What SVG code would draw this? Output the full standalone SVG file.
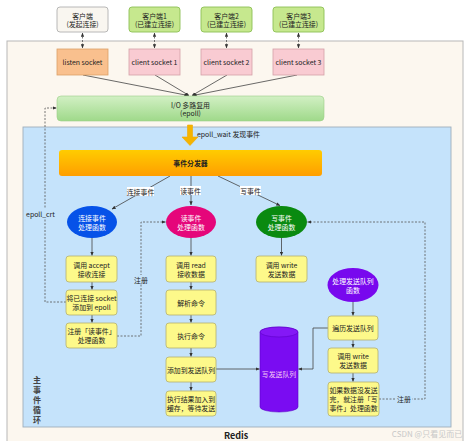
<svg xmlns="http://www.w3.org/2000/svg" width="474" height="441" viewBox="0 0 474 441">
<style>
text{font-family:"Noto Sans CJK SC","Liberation Sans",sans-serif;font-size:6.9px;fill:#222;text-anchor:middle;dominant-baseline:central}
.w{fill:#fff}
.y{fill:#fdf98a;stroke:#b4b070;stroke-width:0.8}
.pk{fill:#f9cbd2;stroke:#d4a0a8;stroke-width:0.8}
.gr{fill:#c6e88e;stroke:#8cbf55;stroke-width:0.9}
.ln{fill:none;stroke:#444;stroke-width:0.8}
.ds{fill:none;stroke:#555;stroke-width:0.8;stroke-dasharray:2 1.5}
.lb{fill:#fff}
</style>
<defs>
<marker id="a" viewBox="0 0 6 6" refX="5.5" refY="3" markerWidth="5" markerHeight="5" orient="auto"><path d="M0,0.5 L6,3 L0,5.5 Z" fill="#333"/></marker>
<marker id="as" viewBox="0 0 6 6" refX="0.5" refY="3" markerWidth="5" markerHeight="5" orient="auto"><path d="M6,0.5 L0,3 L6,5.5 Z" fill="#333"/></marker>
<linearGradient id="gio" x1="0" y1="0" x2="0" y2="1"><stop offset="0" stop-color="#d2f0c4"/><stop offset="1" stop-color="#9fd98a"/></linearGradient>
<linearGradient id="gdisp" x1="0" y1="0" x2="0" y2="1"><stop offset="0" stop-color="#ffcc00"/><stop offset="1" stop-color="#ff9e00"/></linearGradient>
</defs>
<rect x="0" y="0" width="474" height="441" fill="#fff"/>
<rect id="redis" x="7" y="41" width="456" height="410" fill="#fcf7ef" stroke="#b8b8b8" stroke-width="1"/>
<rect id="loop" x="23" y="127" width="428" height="300" fill="#c5e3fb" stroke="#a0aebb" stroke-width="0.9"/>
<text x="236" y="435" style="font-weight:bold;font-size:9px;fill:#222">Redis</text>
<text x="37" y="379" style="font-weight:bold;font-size:8px;fill:#444">主</text>
<text x="37" y="389" style="font-weight:bold;font-size:8px;fill:#444">事</text>
<text x="37" y="399" style="font-weight:bold;font-size:8px;fill:#444">件</text>
<text x="37" y="409" style="font-weight:bold;font-size:8px;fill:#444">循</text>
<text x="37" y="419" style="font-weight:bold;font-size:8px;fill:#444">环</text>

<g id="connectors">
<line class="ds" x1="82.5" y1="33" x2="82.5" y2="48" marker-start="url(#as)" marker-end="url(#a)"/>
<line class="ds" x1="154.5" y1="33" x2="154.5" y2="48" marker-start="url(#as)" marker-end="url(#a)"/>
<line class="ds" x1="226.5" y1="33" x2="226.5" y2="48" marker-start="url(#as)" marker-end="url(#a)"/>
<line class="ds" x1="298.5" y1="33" x2="298.5" y2="48" marker-start="url(#as)" marker-end="url(#a)"/>
<line class="ln" x1="83" y1="75" x2="188" y2="95.5" marker-end="url(#a)"/>
<line class="ln" x1="155" y1="75" x2="189" y2="95.5" marker-end="url(#a)"/>
<line class="ln" x1="227" y1="75" x2="192" y2="95.5" marker-end="url(#a)"/>
<line class="ln" x1="297" y1="75" x2="193" y2="95.5" marker-end="url(#a)"/>
<path d="M187.5,125 h5 v12 h5.5 l-8,8.5 l-8,-8.5 h5.5 Z" fill="#f5b400" stroke="#f0a800" stroke-width="0.6" stroke-linejoin="round"/>
<text x="197" y="134" style="text-anchor:start">epoll_wait 发现事件</text>
<line class="ln" x1="170" y1="176" x2="112" y2="209" marker-end="url(#a)"/>
<line class="ln" x1="191" y1="176" x2="191" y2="205" marker-end="url(#a)"/>
<line class="ln" x1="218" y1="176" x2="280" y2="205.5" marker-end="url(#a)"/>
<rect class="lb" x="127" y="187" width="27" height="9"/>
<text x="140.5" y="191.5">连接事件</text>
<rect class="lb" x="180" y="186" width="21" height="9"/>
<text x="190.5" y="190.5">读事件</text>
<rect class="lb" x="240" y="186" width="21" height="9"/>
<text x="250.5" y="190.5">写事件</text>
<line class="ln" x1="92" y1="238" x2="92" y2="255.5" marker-end="url(#a)"/>
<line class="ln" x1="92" y1="282" x2="92" y2="289.5" marker-end="url(#a)"/>
<line class="ln" x1="92" y1="315" x2="92" y2="322.5" marker-end="url(#a)"/>
<line class="ln" x1="191" y1="238" x2="191" y2="255.5" marker-end="url(#a)"/>
<line class="ln" x1="191" y1="282" x2="191" y2="289.5" marker-end="url(#a)"/>
<line class="ln" x1="191" y1="315" x2="191" y2="322.5" marker-end="url(#a)"/>
<line class="ln" x1="191" y1="348" x2="191" y2="356.5" marker-end="url(#a)"/>
<line class="ln" x1="191" y1="382" x2="191" y2="390.5" marker-end="url(#a)"/>
<line class="ln" x1="281.5" y1="238" x2="281.5" y2="255.5" marker-end="url(#a)"/>
<line class="ln" x1="353" y1="302" x2="353" y2="315.5" marker-end="url(#a)"/>
<line class="ln" x1="353" y1="340" x2="353" y2="347.5" marker-end="url(#a)"/>
<line class="ln" x1="353" y1="373" x2="353" y2="381.5" marker-end="url(#a)"/>
<line class="ln" x1="216" y1="369" x2="259.5" y2="369" marker-end="url(#a)"/>
<path class="ln" d="M328,328 H313 V369 H298.5" marker-end="url(#a)"/>
<path class="ds" d="M66,302 H45 V108 H56.5" marker-end="url(#a)"/>
<rect x="27" y="209" width="27" height="9" fill="#c5e3fb"/>
<text x="40.5" y="213.5">epoll_crt</text>
<path class="ds" d="M117,336 H141 V222 H165.5" marker-end="url(#a)"/>
<rect x="133" y="275" width="16" height="9" fill="#c5e3fb"/>
<text x="141" y="279.5">注册</text>
<path class="ds" d="M379,399 H425 V222 H307.5" marker-end="url(#a)"/>
<rect x="396" y="394.5" width="16" height="9" fill="#c5e3fb"/>
<text x="404" y="399">注册</text>
</g>

<g id="client0"><rect x="57" y="7" width="51" height="25" rx="3" fill="#f9f6f0" stroke="#b0b0b0" stroke-width="0.9"/><text x="82.5" y="15.5">客户端</text><text x="82.5" y="24">(发起连接)</text></g>
<g id="client1"><rect class="gr" x="129" y="7" width="51" height="25" rx="3"/><text x="154.5" y="15.5">客户端1</text><text x="154.5" y="24">(已建立连接)</text></g>
<g id="client2"><rect class="gr" x="201" y="7" width="51" height="25" rx="3"/><text x="226.5" y="15.5">客户端2</text><text x="226.5" y="24">(已建立连接)</text></g>
<g id="client3"><rect class="gr" x="273" y="7" width="51" height="25" rx="3"/><text x="298.5" y="15.5">客户端3</text><text x="298.5" y="24">(已建立连接)</text></g>

<g id="listen"><rect x="57" y="49" width="51" height="26" fill="#f9c08e" stroke="#dca068" stroke-width="0.8"/><text x="82.5" y="62">listen socket</text></g>
<g id="cs1"><rect class="pk" x="129" y="49" width="51" height="26"/><text x="154.5" y="62">client socket 1</text></g>
<g id="cs2"><rect class="pk" x="201" y="49" width="51" height="26"/><text x="226.5" y="62">client socket 2</text></g>
<g id="cs3"><rect class="pk" x="273" y="49" width="51" height="26"/><text x="298.5" y="62">client socket 3</text></g>

<g id="epoll"><rect x="57" y="96" width="267" height="25" rx="4" fill="url(#gio)" stroke="#9ccf88" stroke-width="0.6"/><text x="190.5" y="104.5">I/O 多路复用</text><text x="190.5" y="113">(epoll)</text></g>

<g id="dispatcher"><rect x="59" y="150" width="263" height="26" rx="3" fill="url(#gdisp)"/><text x="190.5" y="163" style="font-weight:bold">事件分发器</text></g>

<g id="connHandler"><ellipse cx="92" cy="222" rx="25" ry="16" fill="#0652e8"/><text class="w" x="92" y="217.5">连接事件</text><text class="w" x="92" y="226.5">处理函数</text></g>
<g id="readHandler"><ellipse cx="191" cy="222" rx="25" ry="16" fill="#e5067a"/><text class="w" x="191" y="217.5">读事件</text><text class="w" x="191" y="226.5">处理函数</text></g>
<g id="writeHandler"><ellipse cx="281.5" cy="222" rx="25.5" ry="16" fill="#0a8a10"/><text class="w" x="281.5" y="217.5">写事件</text><text class="w" x="281.5" y="226.5">处理函数</text></g>
<g id="queueHandler"><ellipse cx="353" cy="285" rx="25.5" ry="17" fill="#7808ee"/><text class="w" x="353" y="280.5">处理发送队列</text><text class="w" x="353" y="289.5">函数</text></g>

<g id="accept"><rect class="y" x="66" y="256" width="51" height="26" rx="3"/><text x="91.5" y="264.5">调用 accept</text><text x="91.5" y="273.5">接收连接</text></g>
<g id="addEpoll"><rect class="y" x="66" y="290" width="51" height="25" rx="3"/><text x="91.5" y="298">将已连接 socket</text><text x="91.5" y="307">添加到 epoll</text></g>
<g id="regRead"><rect class="y" x="66" y="323" width="51" height="25" rx="3"/><text x="91.5" y="331">注册「读事件」</text><text x="91.5" y="340">处理函数</text></g>

<g id="read"><rect class="y" x="166" y="256" width="50" height="26" rx="3"/><text x="191" y="264.5">调用 read</text><text x="191" y="273.5">接收数据</text></g>
<g id="parse"><rect class="y" x="166" y="290" width="50" height="25" rx="3"/><text x="191" y="302.5">解析命令</text></g>
<g id="exec"><rect class="y" x="166" y="323" width="50" height="25" rx="3"/><text x="191" y="335.5">执行命令</text></g>
<g id="addQueue"><rect class="y" x="166" y="357" width="50" height="25" rx="3"/><text x="191" y="369.5">添加到发送队列</text></g>
<g id="cache"><rect class="y" x="166" y="391" width="50" height="25" rx="3"/><text x="191" y="399">执行结果加入到</text><text x="191" y="408">缓存，等待发送</text></g>

<g id="write1"><rect class="y" x="256" y="256" width="51" height="26" rx="3"/><text x="281.5" y="264.5">调用 write</text><text x="281.5" y="273.5">发送数据</text></g>

<g id="traverse"><rect class="y" x="328" y="316" width="50" height="24" rx="3"/><text x="353" y="328">遍历发送队列</text></g>
<g id="write2"><rect class="y" x="328" y="348" width="50" height="25" rx="3"/><text x="353" y="356">调用 write</text><text x="353" y="365">发送数据</text></g>
<g id="regWrite"><rect class="y" x="328" y="382" width="51" height="34" rx="3"/><text x="353.5" y="390">如果数据没发送</text><text x="353.5" y="399">完，就注册「写</text><text x="353.5" y="408">事件」处理函数</text></g>

<g id="sendQueue"><path d="M260,332 A19,5 0 0 1 298,332 V407 A19,5 0 0 1 260,407 Z" fill="#7a0cf2" stroke="#5c00c8" stroke-width="0.6"/><ellipse cx="279" cy="332" rx="19" ry="5" fill="#8418f6" stroke="#5c00c8" stroke-width="0.6"/><text x="279" y="374" style="fill:#f4c8f4">写发送队列</text></g>

<text x="427" y="433" style="fill:#c8c8c8;font-size:8px">CSDN @只看见而已</text>
</svg>
